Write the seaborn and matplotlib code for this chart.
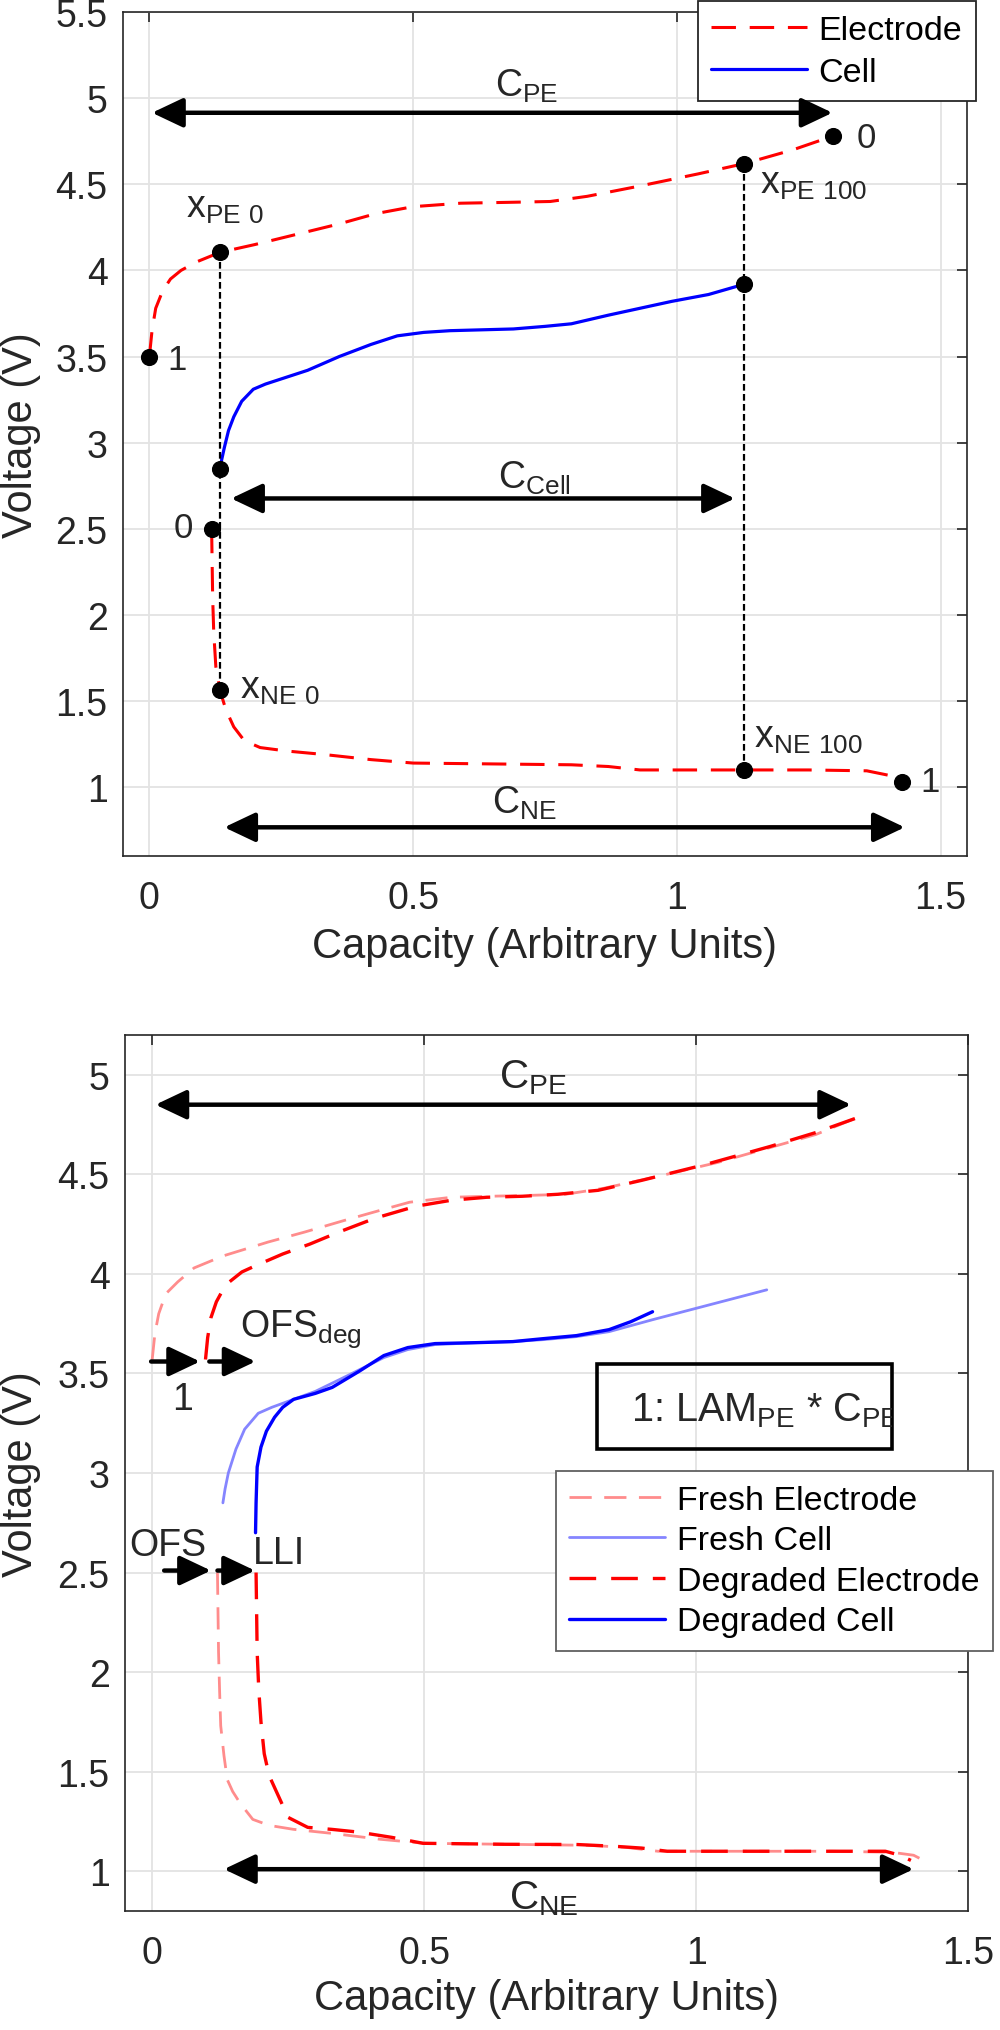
import numpy as np
import pandas as pd
import seaborn as sns
import matplotlib.pyplot as plt
from matplotlib.patches import Rectangle

# ---------- data ----------
# top panel: fresh electrode / cell
pe_x = [0, 0.005, 0.012, 0.025, 0.04, 0.06, 0.09, 0.134, 0.2, 0.28, 0.36, 0.43, 0.5,
        0.59, 0.68, 0.76, 0.83, 0.93, 1.04, 1.128, 1.22, 1.296]
pe_v = [3.5, 3.65, 3.78, 3.88, 3.95, 4.0, 4.05, 4.105, 4.15, 4.21, 4.27, 4.33, 4.37,
        4.39, 4.395, 4.40, 4.43, 4.49, 4.56, 4.62, 4.70, 4.78]
ne_x = [0.118, 0.119, 0.12, 0.122, 0.126, 0.134, 0.145, 0.16, 0.18, 0.21, 0.26, 0.33,
        0.42, 0.5, 0.65, 0.8, 0.87, 0.93, 1.0, 1.128, 1.25, 1.36, 1.40, 1.426]
ne_v = [2.5, 2.3, 2.1, 1.9, 1.7, 1.56, 1.45, 1.35, 1.27, 1.23, 1.21, 1.19,
        1.16, 1.14, 1.135, 1.13, 1.12, 1.10, 1.10, 1.10, 1.10, 1.095, 1.07, 1.03]
cell_x = [0.134, 0.137, 0.142, 0.15, 0.16, 0.175, 0.197, 0.22, 0.25, 0.3, 0.36, 0.42,
          0.47, 0.52, 0.57, 0.63, 0.69, 0.75, 0.8, 0.87, 0.93, 0.99, 1.06, 1.128]
cell_v = [2.845, 2.9, 2.97, 3.07, 3.15, 3.24, 3.31, 3.34, 3.37, 3.42, 3.50, 3.57,
          3.62, 3.64, 3.65, 3.655, 3.66, 3.675, 3.69, 3.74, 3.78, 3.82, 3.86, 3.92]

# marked points
pt_x = [0.0, 1.296, 0.134, 1.128, 0.134, 1.128, 0.118, 0.134, 1.128, 1.426]
pt_v = [3.5, 4.78, 4.105, 4.62, 2.845, 3.92, 2.5, 1.565, 1.10, 1.03]

# bottom panel: fresh vs degraded
fpe_x = [0.0, 0.005, 0.012, 0.025, 0.047, 0.077, 0.13, 0.213, 0.28, 0.355, 0.42, 0.473,
         0.55, 0.62, 0.7, 0.76, 0.83, 0.93, 1.04, 1.13, 1.22, 1.30]
fpe_v = [3.57, 3.70, 3.80, 3.90, 3.96, 4.03, 4.09, 4.16, 4.21, 4.27, 4.32, 4.36,
         4.385, 4.39, 4.395, 4.40, 4.43, 4.49, 4.56, 4.63, 4.70, 4.79]
dpe_x = [0.098, 0.102, 0.108, 0.118, 0.13, 0.142, 0.165, 0.189, 0.24, 0.29, 0.343, 0.41,
         0.485, 0.55, 0.615, 0.68, 0.746, 0.82, 0.9, 1.018, 1.136, 1.22, 1.302]
dpe_v = [3.57, 3.68, 3.78, 3.86, 3.92, 3.96, 4.01, 4.04, 4.10, 4.15, 4.21, 4.28,
         4.34, 4.37, 4.385, 4.39, 4.40, 4.42, 4.47, 4.55, 4.64, 4.71, 4.79]
fcell_x = [0.13, 0.134, 0.14, 0.154, 0.17, 0.195, 0.22, 0.26, 0.3, 0.36, 0.426, 0.47,
           0.52, 0.6, 0.663, 0.72, 0.78, 0.84, 0.92, 1.018, 1.13]
fcell_v = [2.85, 2.92, 3.0, 3.12, 3.22, 3.30, 3.33, 3.37, 3.41, 3.49, 3.58, 3.62,
           3.645, 3.655, 3.66, 3.67, 3.685, 3.71, 3.77, 3.84, 3.92]
dcell_x = [0.19, 0.191, 0.193, 0.2, 0.21, 0.225, 0.24, 0.26, 0.3, 0.331, 0.38, 0.426,
           0.47, 0.52, 0.6, 0.663, 0.72, 0.78, 0.84, 0.88, 0.92]
dcell_v = [2.70, 2.85, 3.03, 3.13, 3.21, 3.28, 3.33, 3.37, 3.40, 3.43, 3.51, 3.59,
           3.63, 3.65, 3.655, 3.66, 3.675, 3.69, 3.72, 3.76, 3.81]
fne_x = [0.12, 0.121, 0.122, 0.124, 0.126, 0.132, 0.138, 0.148, 0.162, 0.185, 0.215, 0.26,
         0.33, 0.42, 0.5, 0.65, 0.8, 0.87, 0.93, 1.0, 1.13, 1.25, 1.36, 1.40, 1.425]
fne_v = [2.5, 2.3, 2.1, 1.9, 1.73, 1.58, 1.46, 1.40, 1.34, 1.26, 1.23, 1.21,
         1.19, 1.16, 1.14, 1.135, 1.13, 1.12, 1.10, 1.10, 1.10, 1.10, 1.095, 1.08, 1.045]
dne_x = [0.191, 0.192, 0.193, 0.196, 0.2, 0.206, 0.215, 0.23, 0.25, 0.286, 0.33, 0.38,
         0.44, 0.498, 0.65, 0.78, 0.85, 0.9, 0.947, 1.1, 1.25, 1.348, 1.375, 1.395]
dne_v = [2.5, 2.3, 2.1, 1.91, 1.75, 1.59, 1.48, 1.39, 1.27, 1.22, 1.21, 1.196,
         1.17, 1.14, 1.135, 1.134, 1.125, 1.116, 1.10, 1.10, 1.10, 1.10, 1.08, 1.054]

# ---------- style ----------
sns.set_theme(style='whitegrid')
plt.rcParams['font.family'] = ['Liberation Sans', 'DejaVu Sans']
plt.rcParams['mathtext.default'] = 'regular'
plt.rcParams['axes.edgecolor'] = '#262626'
plt.rcParams['axes.linewidth'] = 1.2
plt.rcParams['grid.color'] = '#e3e3e3'
plt.rcParams['grid.linewidth'] = 1.3

RED = '#ff0000'
BLUE = '#0000ff'
LRED = '#ff8c8c'
LBLUE = '#8585ff'
DASH = (0, (8, 4.5))
TXT = 27

fig = plt.figure(figsize=(10, 20.31), dpi=100)
ax1 = fig.add_axes([0.123, 0.578, 0.844, 0.4156])
ax2 = fig.add_axes([0.125, 0.0586, 0.843, 0.4313])


def style_axes(ax, ylim, yticks, xlim):
    ax.set_xlim(*xlim)
    ax.set_ylim(*ylim)
    ax.set_xticks([0, 0.5, 1, 1.5])
    ax.set_xticklabels(['0', '0.5', '1', '1.5'])
    ax.set_yticks(yticks)
    ax.set_yticklabels([('%g' % t) for t in yticks])
    ax.tick_params(direction='in', length=7, width=1.2, color='#262626',
                   top=True, right=True, labelsize=27, labelcolor='#262626')
    ax.tick_params(axis='x', pad=17)
    ax.tick_params(axis='y', pad=11)
    ax.grid(True)
    for s in ax.spines.values():
        s.set_visible(True)
        s.set_color('#262626')
    ax.set_xlabel('Capacity (Arbitrary Units)', fontsize=30, color='#262626')
    ax.set_ylabel('Voltage (V)', fontsize=30, color='#262626')


def darrow(ax, x0, x1, y, style='<|-|>'):
    ax.annotate('', xy=(x1, y), xytext=(x0, y),
                arrowprops=dict(arrowstyle=style + ',head_length=0.95,head_width=0.45',
                                mutation_scale=20, lw=3.2, color='black',
                                shrinkA=0, shrinkB=0), zorder=6)


def leg_style(leg, ec):
    leg.get_frame().set_linewidth(1.3)
    leg.get_frame().set_edgecolor(ec)
    for txt in leg.get_texts():
        txt.set_color('black')


# ---------- top panel ----------
top = pd.DataFrame({'x': pe_x, 'V': pe_v})
sns.lineplot(data=top, x='x', y='V', sort=False, estimator=None, color=RED, lw=2.2,
             linestyle=DASH, label='Electrode', ax=ax1)
sns.lineplot(x=ne_x, y=ne_v, sort=False, estimator=None, color=RED, lw=2.2,
             linestyle=DASH, ax=ax1)
sns.lineplot(x=cell_x, y=cell_v, sort=False, estimator=None, color=BLUE, lw=2.3,
             label='Cell', ax=ax1)

# connectors between electrode and cell end points
for xv, y0, y1 in [(0.134, 4.105, 1.565), (1.128, 4.62, 1.10)]:
    ax1.plot([xv, xv], [y0, y1], color='black', lw=1.6, ls=(0, (3, 1.5)), zorder=4)

sns.scatterplot(x=pt_x, y=pt_v, color='black', s=130, edgecolor='black', zorder=7,
                ax=ax1, legend=False)

ax1.text(0.035, 3.43, '1', fontsize=25, va='baseline', ha='left')
ax1.text(1.34, 4.715, '0', fontsize=25, va='baseline', ha='left')
ax1.text(0.069, 4.31, 'x$_{PE\\ 0}$', fontsize=TXT, va='baseline', ha='left')
ax1.text(1.158, 4.45, 'x$_{PE\\ 100}$', fontsize=TXT, va='baseline', ha='left')
ax1.text(0.083, 2.45, '0', fontsize=25, va='baseline', ha='right')
ax1.text(0.172, 1.52, 'x$_{NE\\ 0}$', fontsize=TXT, va='baseline', ha='left')
ax1.text(1.146, 1.235, 'x$_{NE\\ 100}$', fontsize=TXT, va='baseline', ha='left')
ax1.text(1.462, 0.975, '1', fontsize=25, va='baseline', ha='left')

darrow(ax1, 0.005, 1.295, 4.915)
ax1.text(0.715, 5.012, 'C$_{PE}$', fontsize=TXT, ha='center', va='baseline')
darrow(ax1, 0.155, 1.11, 2.676)
ax1.text(0.73, 2.738, 'C$_{Cell}$', fontsize=TXT, ha='center', va='baseline')
darrow(ax1, 0.142, 1.432, 0.767)
ax1.text(0.71, 0.849, 'C$_{NE}$', fontsize=TXT, ha='center', va='baseline')

style_axes(ax1, (0.6, 5.5), [1, 1.5, 2, 2.5, 3, 3.5, 4, 4.5, 5, 5.5], (-0.05, 1.55))
ax1.xaxis.set_label_coords(0.5, -0.083)
ax1.yaxis.set_label_coords(-0.097, 0.5)
leg1 = ax1.legend(loc='upper right', bbox_to_anchor=(1.0107, 1.013), fontsize=24.5,
                  frameon=True, fancybox=False, framealpha=1, handlelength=2.8,
                  borderpad=0.4, labelspacing=0.32, handletextpad=0.35,
                  borderaxespad=0)
leg_style(leg1, '#262626')

# ---------- bottom panel ----------
sns.lineplot(x=fpe_x, y=fpe_v, sort=False, estimator=None, color=LRED, lw=2.0,
             linestyle=DASH, label='Fresh Electrode', ax=ax2)
sns.lineplot(x=fne_x, y=fne_v, sort=False, estimator=None, color=LRED, lw=2.0,
             linestyle=DASH, ax=ax2)
sns.lineplot(x=fcell_x, y=fcell_v, sort=False, estimator=None, color=LBLUE, lw=2.0,
             label='Fresh Cell', ax=ax2)
sns.lineplot(x=dpe_x, y=dpe_v, sort=False, estimator=None, color=RED, lw=2.4,
             linestyle=DASH, label='Degraded Electrode', ax=ax2)
sns.lineplot(x=dne_x, y=dne_v, sort=False, estimator=None, color=RED, lw=2.4,
             linestyle=DASH, ax=ax2)
sns.lineplot(x=dcell_x, y=dcell_v, sort=False, estimator=None, color=BLUE, lw=2.4,
             label='Degraded Cell', ax=ax2)

darrow(ax2, 0.006, 1.285, 4.85)
ax2.text(0.70, 4.935, 'C$_{PE}$', fontsize=29, ha='center', va='baseline')
darrow(ax2, 0.132, 1.40, 1.01)
ax2.text(0.72, 0.813, 'C$_{NE}$', fontsize=29, ha='center', va='baseline')

darrow(ax2, -0.002, 0.088, 3.56, style='-|>')
darrow(ax2, 0.105, 0.19, 3.56, style='-|>')
ax2.text(0.056, 3.32, '1', fontsize=TXT, ha='center', va='baseline')
ax2.text(0.162, 3.69, 'OFS$_{deg}$', fontsize=TXT, ha='left', va='baseline')
darrow(ax2, 0.022, 0.108, 2.51, style='-|>')
darrow(ax2, 0.12, 0.189, 2.51, style='-|>')
ax2.text(0.029, 2.586, 'OFS', fontsize=TXT, ha='center', va='baseline')
ax2.text(0.186, 2.55, 'LLI', fontsize=TXT, ha='left', va='baseline')

# text box whose content overflows and is cut at its right edge
box = Rectangle((0.818, 3.123), 0.542, 0.422, fill=False, ec='black', lw=2.6, zorder=8)
ax2.add_patch(box)
t = ax2.text(0.88, 3.264, '1: LAM$_{PE}$ * C$_{PE}$', fontsize=28.5, ha='left',
             va='baseline', zorder=8, clip_on=True)
t.set_clip_path(box)

style_axes(ax2, (0.8, 5.2), [1, 1.5, 2, 2.5, 3, 3.5, 4, 4.5, 5], (-0.05, 1.5))
ax2.xaxis.set_label_coords(0.5, -0.0765)
ax2.yaxis.set_label_coords(-0.1, 0.5)
leg2 = ax2.legend(loc='upper left', bbox_to_anchor=(0.511, 0.502), fontsize=24.5,
                  frameon=True, fancybox=False, framealpha=1, handlelength=2.8,
                  borderpad=0.4, labelspacing=0.28, handletextpad=0.35,
                  borderaxespad=0)
leg_style(leg2, '#606060')

fig.savefig('out.png', dpi=100)
